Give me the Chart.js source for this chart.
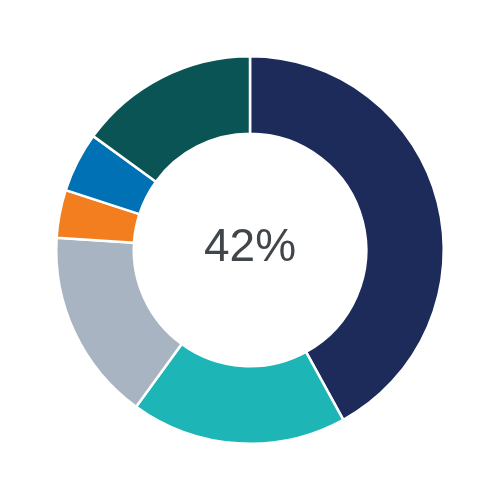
<!DOCTYPE html>
<html>
<head>
<meta charset="utf-8">
<script src="https://cdn.jsdelivr.net/npm/chart.js@4"></script>
<style>
  html, body { margin: 0; padding: 0; background: #fff; }
  #wrap { width: 500px; height: 500px; position: relative; }
</style>
</head>
<body>
<div id="wrap"><canvas id="grafico"></canvas></div>
<script>
// data, clockwise from 12 o'clock
const segmentos = ["A", "B", "C", "D", "E", "F"];
const valores = [42, 18, 16, 4, 5, 15];
const colores = ["#1d2b5b", "#1db5b6", "#a9b4c3", "#f27e1f", "#0071b4", "#0b5455"];
const textoCentro = "42%";

// texto en el centro
const centroPlugin = {
    id: "centro",
    afterDraw(chart) {
        const meta = chart.getDatasetMeta(0).data[0];
        if (!meta) return;
        const ctx = chart.ctx;
        ctx.save();
        ctx.font = "46px 'Liberation Sans', Arial, sans-serif";
        ctx.fillStyle = "#41464b";
        ctx.textAlign = "center";
        ctx.textBaseline = "middle";
        ctx.fillText(textoCentro, meta.x, meta.y - 2);
        ctx.restore();
    }
};

new Chart(document.getElementById("grafico"), {
    type: "doughnut",
    data: {
        labels: segmentos,
        datasets: [{
            data: valores,
            backgroundColor: colores,
            borderColor: "#ffffff",
            borderWidth: 2.5
        }]
    },
    options: {
        responsive: true,
        maintainAspectRatio: false,
        animation: false,
        cutout: "60%",
        layout: { padding: 55 },
        plugins: {
            legend: { display: false },
            tooltip: { enabled: false }
        }
    },
    plugins: [centroPlugin]
});
</script>
</body>
</html>
